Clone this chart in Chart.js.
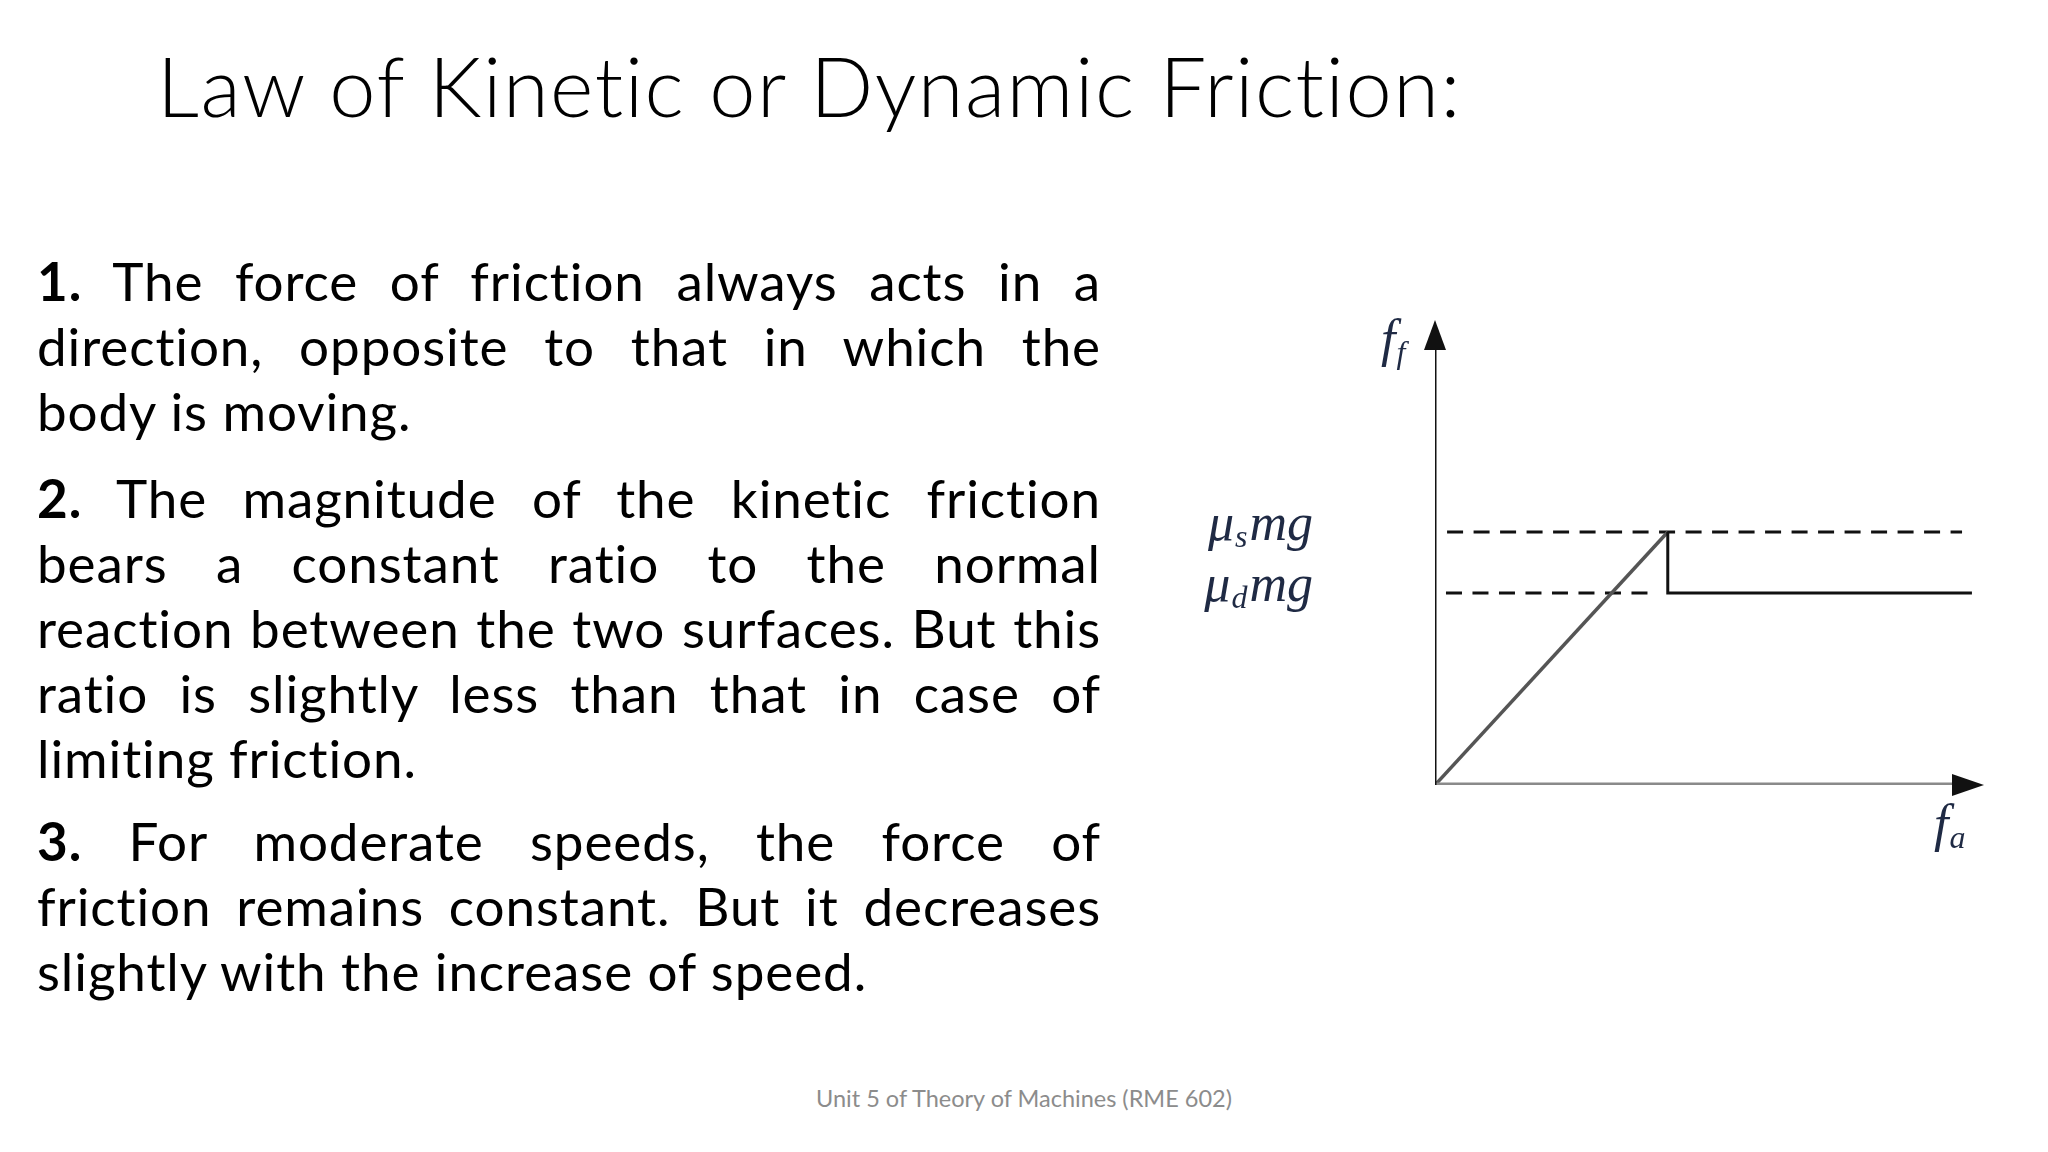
<!DOCTYPE html>
<html>
<head>
<meta charset="utf-8">
<script src="https://cdn.jsdelivr.net/npm/chart.js@4.4.1/dist/chart.umd.min.js"></script>
<style>
  html, body { margin: 0; padding: 0; background: #fff; }
  body { width: 2048px; height: 1152px; position: relative; overflow: hidden; font-family: Lato, "Open Sans", sans-serif; color: #000; font-variant-ligatures: none; }
  #title { position: absolute; left: 157px; top: 35px; font-size: 83px; line-height: 100px; font-weight: 300; white-space: nowrap; letter-spacing: 1.5px; }
  #text { position: absolute; left: 37px; top: 248px; width: 1064px; font-size: 53px; line-height: 65px; letter-spacing: 0.9px; }
  #text .p + .p { margin-top: 22px; }
  #text .p.third { margin-top: 18px; }
  #text .l { text-align: justify; text-align-last: justify; white-space: nowrap; }
  #text .l.last { text-align: left; text-align-last: left; }
  #foot { position: absolute; left: 0; width: 2048px; top: 1083px; text-align: center; font-size: 23.5px; line-height: 30px; color: #8c8c8c; }
  #graph { position: absolute; left: 1150px; top: 280px; width: 880px; height: 620px; }
</style>
</head>
<body>
<div id="title">Law of Kinetic or Dynamic Friction:</div>

<div id="text">
  <div class="p">
    <div class="l"><b>1.</b> The force of friction always acts in a</div>
    <div class="l">direction, opposite to that in which the</div>
    <div class="l last">body is moving.</div>
  </div>
  <div class="p">
    <div class="l"><b>2.</b> The magnitude of the kinetic friction</div>
    <div class="l">bears a constant ratio to the normal</div>
    <div class="l">reaction between the two surfaces. But this</div>
    <div class="l">ratio is slightly less than that in case of</div>
    <div class="l last">limiting friction.</div>
  </div>
  <div class="p third">
    <div class="l"><b>3.</b> For moderate speeds, the force of</div>
    <div class="l">friction remains constant. But it decreases</div>
    <div class="l last">slightly with the increase of speed.</div>
  </div>
</div>

<div id="graph"><canvas id="friction" width="880" height="620"></canvas></div>

<div id="foot">Unit 5 of Theory of Machines (RME 602)</div>

<script>
// applied force (fa) on x, friction force (ff) on y, arbitrary units 0..100
var axisMax = [100, 100];

var rampX = [0, 42.4];
var rampY = [0, 54.4];

var staticX = [2.2, 96.0];
var staticY = [54.4, 54.4];

var kineticDashX = [2.0, 40.2];
var kineticDashY = [41.3, 41.3];

var kineticX = [42.4, 42.4, 97.8];
var kineticY = [54.4, 41.3, 41.3];

var levelValues = [54.4, 41.3];
var levelLabels = [["\u03bc", "s", "mg"], ["\u03bc", "d", "mg"]];
var axisNames = [["f", "a"], ["f", "f"]];

function pts(xs, ys) {
    var out = [];
    for (var i = 0; i < xs.length; i++) {
        out.push({x: xs[i], y: ys[i]});
    }
    return out;
}

var labelFont = "italic 52px 'Liberation Serif', 'DejaVu Serif', serif";
var subFont = "italic 32px 'Liberation Serif', 'DejaVu Serif', serif";
var labelColor = "#1f2a44";

// draws base + subscript + rest starting at x, baseline y
function drawSubLabel(ctx, parts, x, y, align) {
    ctx.font = labelFont;
    var w0 = ctx.measureText(parts[0]).width;
    var w2 = parts[2] ? ctx.measureText(parts[2]).width : 0;
    ctx.font = subFont;
    var w1 = ctx.measureText(parts[1]).width;
    var total = w0 + w1 + 3 + w2;
    if (align === "right") x = x - total;
    ctx.fillStyle = labelColor;
    ctx.textBaseline = "alphabetic";
    ctx.textAlign = "left";
    ctx.font = labelFont;
    ctx.fillText(parts[0], x, y);
    ctx.font = subFont;
    ctx.fillText(parts[1], x + w0 + 1, y + 7);
    if (parts[2]) {
        ctx.font = labelFont;
        ctx.fillText(parts[2], x + w0 + w1 + 3, y);
    }
}

var decorations = {
    id: "decorations",
    afterDatasetsDraw: function (chart) {
        var ctx = chart.ctx;
        var xs = chart.scales.x, ys = chart.scales.y;
        var ox = xs.getPixelForValue(0), oy = ys.getPixelForValue(0);
        var topY = ys.getPixelForValue(axisMax[1]);
        var rightX = xs.getPixelForValue(axisMax[0]);
        ctx.save();
        ctx.fillStyle = "#111";
        // arrow on ff axis
        ctx.beginPath();
        ctx.moveTo(ox, topY);
        ctx.lineTo(ox - 11, topY + 30);
        ctx.lineTo(ox + 11, topY + 30);
        ctx.closePath();
        ctx.fill();
        // arrow on fa axis
        ctx.beginPath();
        ctx.moveTo(rightX, oy);
        ctx.lineTo(rightX - 32, oy - 11);
        ctx.lineTo(rightX - 32, oy + 11);
        ctx.closePath();
        ctx.fill();

        for (var i = 0; i < levelValues.length; i++) {
            var py = ys.getPixelForValue(levelValues[i]);
            drawSubLabel(ctx, levelLabels[i], ox - 122, py + 8, "right");
        }
        drawSubLabel(ctx, axisNames[1], ox - 54, topY + 36, "left");
        drawSubLabel(ctx, axisNames[0], rightX - 50, oy + 56, "left");
        ctx.restore();
    }
};

new Chart(document.getElementById("friction"), {
    type: "scatter",
    data: {
        datasets: [
            {
                label: "ff axis",
                data: pts([0, 0], [0, axisMax[1] - 5]),
                showLine: true,
                borderColor: "#111",
                borderWidth: 3,
                pointRadius: 0,
                order: 1
            },
            {
                label: "fa axis",
                data: pts([0, axisMax[0] - 4], [0, 0]),
                showLine: true,
                borderColor: "#8a8a8a",
                borderWidth: 5,
                pointRadius: 0,
                order: 2
            },
            {
                label: "static limit",
                data: pts(staticX, staticY),
                showLine: true,
                borderColor: "#111",
                borderWidth: 3,
                borderDash: [16, 10.5],
                pointRadius: 0,
                order: 4
            },
            {
                label: "kinetic level",
                data: pts(kineticDashX, kineticDashY),
                showLine: true,
                borderColor: "#111",
                borderWidth: 3,
                borderDash: [16, 10.5],
                pointRadius: 0,
                order: 4
            },
            {
                label: "kinetic friction",
                data: pts(kineticX, kineticY),
                showLine: true,
                borderColor: "#111",
                borderWidth: 3,
                pointRadius: 0,
                order: 3
            },
            {
                label: "static friction",
                data: pts(rampX, rampY),
                showLine: true,
                borderColor: "#555",
                borderWidth: 3.5,
                pointRadius: 0,
                order: 3
            }
        ]
    },
    options: {
        responsive: false,
        animation: false,
        layout: { padding: { left: 285, right: 46, top: 40, bottom: 115 } },
        plugins: {
            legend: { display: false },
            tooltip: { enabled: false }
        },
        scales: {
            x: { type: "linear", min: 0, max: axisMax[0], display: false },
            y: { type: "linear", min: 0, max: axisMax[1], display: false }
        }
    },
    plugins: [decorations]
});
</script>
</body>
</html>
